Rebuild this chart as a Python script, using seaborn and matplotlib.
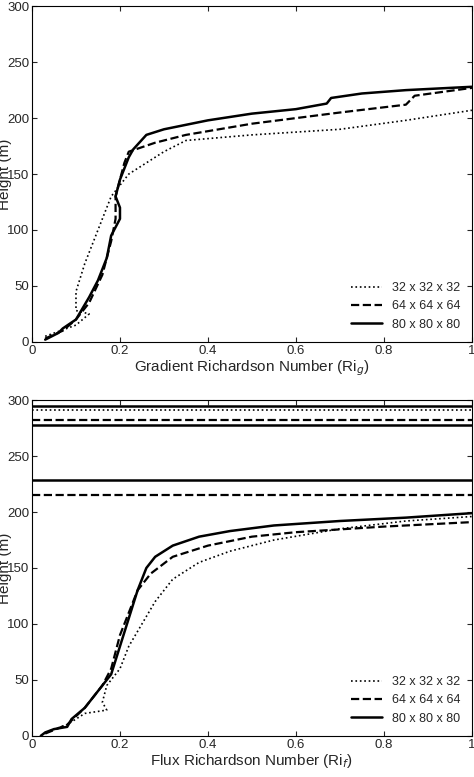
import numpy as np
import pandas as pd
import seaborn as sns
import matplotlib
matplotlib.use('Agg')
import matplotlib.pyplot as plt

labels = ['32 x 32 x 32', '64 x 64 x 64', '80 x 80 x 80']
styles = [':', '--', '-']
widths = [1.2, 1.6, 1.8]

# Gradient Richardson number profiles
rig_32_x = [0.03, 0.10, 0.13, 0.10, 0.10, 0.12, 0.14, 0.16, 0.18, 0.22, 0.30, 0.35, 0.50, 0.70, 0.85, 1.00]
rig_32_z = [5, 15, 25, 28, 45, 70, 90, 110, 130, 150, 170, 180, 185, 190, 198, 207]
rig_64_x = [0.03, 0.07, 0.10, 0.13, 0.16, 0.18, 0.19, 0.19, 0.20, 0.21, 0.22, 0.28, 0.35, 0.50, 0.70, 0.85, 0.87, 1.00]
rig_64_z = [3, 10, 20, 35, 60, 90, 110, 130, 145, 160, 170, 178, 185, 195, 205, 212, 220, 227]
rig_80_x = [0.03, 0.06, 0.07, 0.10, 0.13, 0.15, 0.17, 0.18, 0.20, 0.20, 0.19, 0.20, 0.21, 0.22, 0.23, 0.26, 0.30, 0.40, 0.50, 0.60, 0.67, 0.68, 0.75, 0.85, 1.00]
rig_80_z = [2, 8, 12, 20, 40, 55, 75, 95, 110, 120, 130, 145, 155, 165, 172, 185, 190, 198, 204, 208, 213, 218, 222, 225, 228]

# Flux Richardson number profiles
rif_32_x = [0.03, 0.08, 0.12, 0.17, 0.16, 0.17, 0.20, 0.22, 0.25, 0.28, 0.32, 0.38, 0.45, 0.55, 0.70, 0.85, 1.00]
rif_32_z = [3, 10, 20, 23, 30, 45, 60, 80, 100, 120, 140, 155, 165, 175, 185, 192, 196]
rif_64_x = [0.03, 0.08, 0.12, 0.16, 0.18, 0.20, 0.22, 0.24, 0.27, 0.32, 0.40, 0.50, 0.60, 0.80, 1.00]
rif_64_z = [2, 10, 25, 45, 60, 90, 110, 130, 145, 160, 170, 178, 182, 187, 191]
rif_80_x = [0.02, 0.03, 0.05, 0.08, 0.09, 0.12, 0.15, 0.18, 0.20, 0.22, 0.24, 0.26, 0.28, 0.32, 0.38, 0.45, 0.55, 0.70, 0.85, 1.00]
rif_80_z = [0, 3, 6, 8, 15, 25, 40, 55, 80, 105, 130, 150, 160, 170, 178, 183, 188, 192, 195, 199]
# upper branches that re-enter the plot as flat lines
rif_upper = {0: [291], 1: [282, 215.6], 2: [294.6, 277.4, 229]}

sns.set_style('ticks')
plt.rcParams['font.family'] = ['Liberation Sans', 'DejaVu Sans']

fig = plt.figure(figsize=(4.74, 7.77), dpi=100)
ax1 = fig.add_axes([0.0675, 0.56, 0.928, 0.432])
ax2 = fig.add_axes([0.0675, 0.053, 0.928, 0.432])

top = [(rig_32_x, rig_32_z), (rig_64_x, rig_64_z), (rig_80_x, rig_80_z)]
bot = [(rif_32_x, rif_32_z), (rif_64_x, rif_64_z), (rif_80_x, rif_80_z)]

for ax, sets, xlabel in [(ax1, top, 'Gradient Richardson Number (Ri$_g$)'),
                         (ax2, bot, 'Flux Richardson Number (Ri$_f$)')]:
    for i, (x, z) in enumerate(sets):
        df = pd.DataFrame({'x': x, 'z': z})
        sns.lineplot(data=df, x='x', y='z', sort=False, estimator=None, ax=ax,
                     color='black', linestyle=styles[i], linewidth=widths[i],
                     label=labels[i])
    ax.set_xlim(0, 1)
    ax.set_ylim(0, 300)
    ax.set_xticks([0, 0.2, 0.4, 0.6, 0.8, 1])
    ax.set_xticklabels(['0', '0.2', '0.4', '0.6', '0.8', '1'])
    ax.set_yticks(range(0, 301, 50))
    ax.tick_params(direction='in', top=True, right=True, labelsize=9.5, pad=2)
    ax.set_xlabel(xlabel, fontsize=11, labelpad=1)
    ax.set_ylabel('Height (m)', fontsize=11)
    ax.yaxis.set_label_coords(-0.045, 0.5)
    for s in ax.spines.values():
        s.set_color('black')
    ax.legend(loc='lower right', frameon=False, fontsize=9, handlelength=2.5)

for i, zs in rif_upper.items():
    for z in zs:
        ax2.axhline(z, color='black', linestyle=styles[i], linewidth=widths[i])

fig.savefig('out.png', dpi=100)
